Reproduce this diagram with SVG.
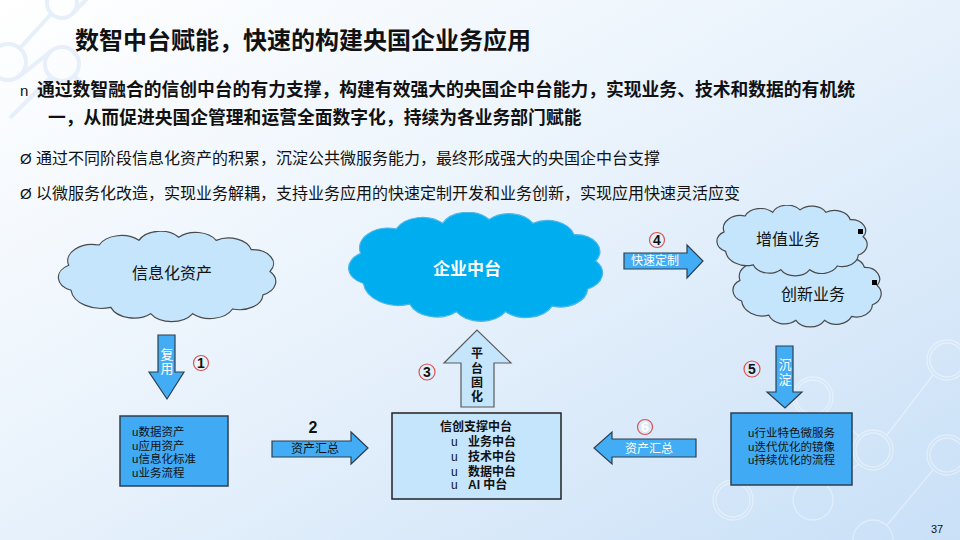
<svg xmlns="http://www.w3.org/2000/svg" xmlns:xlink="http://www.w3.org/1999/xlink" width="960" height="540" viewBox="0 0 960 540">
  <defs>
    <linearGradient id="bg" x1="0" y1="0" x2="1" y2="1">
      <stop offset="0" stop-color="#ffffff"/>
      <stop offset="0.45" stop-color="#eaf3fc"/>
      <stop offset="1" stop-color="#c9e0f7"/>
    </linearGradient>
    <symbol id="cloud" viewBox="2 2 94 59" preserveAspectRatio="none">
      <path vector-effect="non-scaling-stroke" d="M8,40 A9,9 0 0 1 7,24 A10.5,10.5 0 0 1 20,11 A10.5,10.5 0 0 1 37,8 A10,10 0 0 1 54,6 A10,10 0 0 1 70,8 A10,10 0 0 1 85,14 A9,9 0 0 1 93,28 A9.5,9.5 0 0 1 90,43 A10,10 0 0 1 77,52 A10.5,10.5 0 0 1 60,55 A10.5,10.5 0 0 1 42,55 A10.5,10.5 0 0 1 25,51 A13,13 0 0 1 8,40 Z"/>
    </symbol>
    <style>
      text { font-family: "Liberation Sans", "Noto Sans CJK SC", sans-serif; fill: #111; }
      .title { font-size: 24px; font-weight: bold; }
      .lead { font-size: 17.8px; font-weight: bold; }
      .sub { font-size: 16px; }
      .bul { font-size: 15px; }
      .cloudL { fill: #c4e5fb; stroke: #4a4a4a; stroke-width: 1.2; }
      .cloudD { fill: #00aeef; stroke: #4fb6e6; stroke-width: 1.2; }
      .arrB { fill: #42adf5; stroke: #2e3e4e; stroke-width: 1.2; }
      .arrL { fill: #c4e5fb; stroke: #5a5a5a; stroke-width: 1.2; }
      .boxB { fill: #41aaf5; stroke: #2e3e4e; stroke-width: 1.5; }
      .boxL { fill: #c4e5fb; stroke: #222; stroke-width: 1.5; }
      .num { fill: none; stroke: #d9534f; stroke-width: 1.2; }
      .numt { font-size: 14px; font-weight: bold; text-anchor: middle; }
      .wt { fill: #ffffff; font-size: 12px; text-anchor: middle; }
      .bt { font-size: 11.5px; }
      .deco1 { fill: none; stroke: #e6effa; stroke-width: 4; }
      .deco2 { fill: none; stroke: #ffffff; stroke-opacity: 0.4; stroke-width: 1.3; }
    </style>
  </defs>

  <rect x="0" y="0" width="960" height="540" fill="url(#bg)"/>

  <g id="decoration">
    <g class="deco1">
      <circle cx="62" cy="3" r="15"/>
      <circle cx="8" cy="62" r="18"/>
      <circle cx="62" cy="64" r="17"/>
      <line x1="73" y1="13" x2="110" y2="-25"/>
      <line x1="51" y1="14" x2="20" y2="48"/>
      <line x1="20" y1="76" x2="50" y2="52"/>
      <line x1="74" y1="76" x2="100" y2="100"/>
      <line x1="50" y1="78" x2="10" y2="118"/>
    </g>
    <g class="deco2">
      <circle cx="947" cy="360" r="20"/>
      <circle cx="947" cy="360" r="17"/>
      <circle cx="873" cy="450" r="20"/>
      <circle cx="873" cy="450" r="17"/>
      <circle cx="947" cy="455" r="20"/>
      <circle cx="947" cy="455" r="17"/>
      <circle cx="813" cy="397" r="20"/>
      <circle cx="813" cy="397" r="17"/>
      <circle cx="733" cy="500" r="20"/>
      <circle cx="733" cy="500" r="17"/>
      <circle cx="813" cy="500" r="20"/>
      <circle cx="873" cy="540" r="20"/>
      <line x1="933" y1="375" x2="887" y2="435"/>
      <line x1="859" y1="436" x2="827" y2="411"/>
      <line x1="933" y1="470" x2="887" y2="525"/>
      <line x1="859" y1="464" x2="827" y2="486"/>
    </g>
  </g>

  <g id="header">
    <text class="title" x="75" y="49">数智中台赋能，快速的构建央国企业务应用</text>
    <text class="bul" x="20" y="96">n</text>
    <text class="lead" x="37" y="96">通过数智融合的信创中台的有力支撑，构建有效强大的央国企中台能力，实现业务、技术和数据的有机统</text>
    <text class="lead" x="48" y="124">一，从而促进央国企管理和运营全面数字化，持续为各业务部门赋能</text>
    <text class="bul" x="20" y="164">Ø</text>
    <text class="sub" x="36" y="164">通过不同阶段信息化资产的积累，沉淀公共微服务能力，最终形成强大的央国企中台支撑</text>
    <text class="bul" x="20" y="199">Ø</text>
    <text class="sub" x="36" y="199">以微服务化改造，实现业务解耦，支持业务应用的快速定制开发和业务创新，实现应用快速灵活应变</text>
  </g>

  <g id="cloud-assets">
    <use xlink:href="#cloud" href="#cloud" x="57" y="231" width="220" height="92" class="cloudL"/>
    <text x="172" y="279" text-anchor="middle" style="font-size:16px">信息化资产</text>
  </g>

  <g id="cloud-platform">
    <use xlink:href="#cloud" href="#cloud" x="347" y="212" width="257" height="111" class="cloudD"/>
    <text x="467" y="275" text-anchor="middle" style="font-size:17px;font-weight:bold;fill:#ffffff">企业中台</text>
  </g>

  <g id="cloud-innovation">
    <use xlink:href="#cloud" href="#cloud" x="732" y="252" width="150" height="76" class="cloudL"/>
    <text x="813" y="300" text-anchor="middle" style="font-size:16px">创新业务</text>
    <rect x="872" y="280" width="5" height="5" fill="#000"/>
  </g>

  <g id="cloud-value">
    <use xlink:href="#cloud" href="#cloud" x="716" y="205" width="152" height="72" class="cloudL"/>
    <text x="788" y="245" text-anchor="middle" style="font-size:16px">增值业务</text>
    <rect x="858" y="229" width="5" height="5" fill="#000"/>
  </g>

  <g id="box-assets">
    <rect x="120" y="416" width="108" height="70" class="boxB"/>
    <text class="bt" x="132" y="436">u数据资产</text>
    <text class="bt" x="132" y="450">u应用资产</text>
    <text class="bt" x="132" y="463">u信息化标准</text>
    <text class="bt" x="132" y="477">u业务流程</text>
  </g>

  <g id="box-xinchuang">
    <rect x="392" y="413" width="169" height="86" class="boxL"/>
    <text x="440" y="431" style="font-size:12px;font-weight:bold">信创支撑中台</text>
    <text x="451" y="446" style="font-size:12px">u</text>
    <text x="468" y="446" style="font-size:12px;font-weight:bold">业务中台</text>
    <text x="451" y="461" style="font-size:12px">u</text>
    <text x="468" y="461" style="font-size:12px;font-weight:bold">技术中台</text>
    <text x="451" y="476" style="font-size:12px">u</text>
    <text x="468" y="476" style="font-size:12px;font-weight:bold">数据中台</text>
    <text x="451" y="489" style="font-size:12px">u</text>
    <text x="468" y="489" style="font-size:12px;font-weight:bold">AI 中台</text>
  </g>

  <g id="box-services">
    <rect x="731" y="413" width="121" height="72" class="boxB"/>
    <text class="bt" x="748" y="437">u行业特色微服务</text>
    <text class="bt" x="748" y="451">u迭代优化的镜像</text>
    <text class="bt" x="748" y="464">u持续优化的流程</text>
  </g>

  <g id="connectors">
    <g id="arrow-reuse">
      <path class="arrB" d="M158,335 H175 V372 H184 L167,399 L149,372 H158 Z"/>
      <text class="wt" x="167" y="359" style="font-size:13px">复</text>
      <text class="wt" x="167" y="373" style="font-size:13px">用</text>
      <circle class="num" cx="201" cy="363" r="7.5"/>
      <text class="numt" x="201" y="368">1</text>
    </g>
    <g id="arrow-collect1">
      <path class="arrB" d="M272,441 H351 V432 L368,448 L351,464 V457 H272 Z"/>
      <text x="315" y="453" text-anchor="middle" style="font-size:12px">资产汇总</text>
      <text x="313" y="433" text-anchor="middle" style="font-size:16px;font-weight:bold">2</text>
    </g>
    <g id="arrow-solidify">
      <path class="arrL" d="M461,407 V363 H444 L477,330 L511,363 H494 V407 Z"/>
      <text x="477" y="358" text-anchor="middle" style="font-size:12px;font-weight:bold">平</text>
      <text x="477" y="373" text-anchor="middle" style="font-size:12px;font-weight:bold">台</text>
      <text x="477" y="387" text-anchor="middle" style="font-size:12px;font-weight:bold">固</text>
      <text x="477" y="401" text-anchor="middle" style="font-size:12px;font-weight:bold">化</text>
      <circle class="num" cx="427" cy="372" r="8"/>
      <text class="numt" x="427" y="377">3</text>
    </g>
    <g id="arrow-customize">
      <path class="arrB" d="M624,253 H687 V245 L703,261 L687,278 V269 H624 Z"/>
      <text class="wt" x="655" y="265">快速定制</text>
      <circle class="num" cx="657" cy="240" r="7.5"/>
      <text class="numt" x="657" y="245">4</text>
    </g>
    <g id="arrow-settle">
      <path class="arrB" d="M776,346 H793 V392 H802 L785,408 L767,392 H776 Z"/>
      <text class="wt" x="785" y="369" style="font-size:13px">沉</text>
      <text class="wt" x="785" y="384" style="font-size:13px">淀</text>
      <circle class="num" cx="752" cy="369" r="8"/>
      <text class="numt" x="752" y="374">5</text>
    </g>
    <g id="arrow-collect2">
      <path class="arrB" d="M696,439 H612 V432 L594,448 L612,464 V457 H696 Z"/>
      <text class="wt" x="649" y="453">资产汇总</text>
      <circle class="num" cx="645" cy="427" r="7.5"/>
      <text class="numt" x="645" y="432" style="fill:#ffffff">6</text>
    </g>
  </g>

  <text x="937" y="533" text-anchor="middle" style="font-size:11px">37</text>
</svg>
